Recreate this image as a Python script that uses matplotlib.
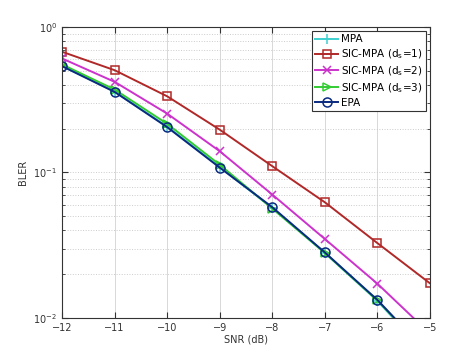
import matplotlib
matplotlib.use("Agg")
import matplotlib.pyplot as plt
from matplotlib.ticker import LogLocator, NullFormatter

snr = [-12, -11, -10, -9, -8, -7, -6, -5]
mpa = [0.540, 0.360, 0.207, 0.109, 0.0570, 0.0280, 0.0131, 0.0053]
sic1 = [0.676, 0.505, 0.334, 0.197, 0.1105, 0.0624, 0.0327, 0.0173]
sic2 = [0.608, 0.420, 0.254, 0.140, 0.0705, 0.0349, 0.0172, 0.0078]
sic3 = [0.553, 0.372, 0.216, 0.113, 0.0565, 0.0280, 0.0132, 0.0055]
epa = [0.538, 0.358, 0.205, 0.108, 0.0577, 0.0282, 0.0133, 0.0055]

fig = plt.figure(figsize=(4.74, 3.56), dpi=100)
ax = fig.add_axes([0.131, 0.107, 0.776, 0.817])

lw = 1.4
ax.plot(snr, mpa, color="#3fd0d0", marker="+", ms=7, lw=lw, mew=1.1, label="MPA")
ax.plot(snr, sic1, color="#b02828", marker="s", ms=5.5, mfc="none", lw=lw, mew=1.1, label=r"SIC-MPA (d$_\mathregular{s}$=1)")
ax.plot(snr, sic2, color="#cc33cc", marker="x", ms=5.5, lw=lw, mew=1.1, label=r"SIC-MPA (d$_\mathregular{s}$=2)")
ax.plot(snr, sic3, color="#33cc33", marker=">", ms=5.5, mfc="none", lw=lw, mew=1.1, label=r"SIC-MPA (d$_\mathregular{s}$=3)")
ax.plot(snr, epa, color="#0a2a80", marker="o", ms=6.5, mfc="none", lw=lw, mew=1.1, label="EPA")

ax.set_yscale("log")
ax.set_xlim(-12, -5)
ax.set_ylim(1e-2, 1)
ax.set_xticks(snr)
ax.yaxis.set_major_locator(LogLocator(base=10))
ax.yaxis.set_minor_locator(LogLocator(base=10, subs=range(2, 10)))
ax.yaxis.set_minor_formatter(NullFormatter())

ax.xaxis.grid(True, which="major", color="#d8d8d8", linestyle="-", lw=0.7)
ax.yaxis.grid(True, which="both", color="#cccccc", linestyle=":", lw=0.7)
ax.set_axisbelow(True)

ax.tick_params(which="both", direction="in", top=True, right=True, labelsize=7, colors="#333333")
ax.tick_params(which="major", length=4)
ax.tick_params(which="minor", length=2)
for s in ax.spines.values():
    s.set_color("#333333")
    s.set_linewidth(0.8)

ax.set_xlabel("SNR (dB)", fontsize=7, color="#333333", labelpad=1)
ax.set_ylabel("BLER", fontsize=7, color="#333333", labelpad=4)

leg = ax.legend(loc="upper right", fontsize=7.5, frameon=True, fancybox=False,
                edgecolor="#333333", framealpha=1, handlelength=2.2,
                borderaxespad=0.4, labelspacing=0.3, handletextpad=0.3, borderpad=0.3)
leg.get_frame().set_linewidth(0.8)

fig.savefig("out.png", dpi=100, facecolor="white")
